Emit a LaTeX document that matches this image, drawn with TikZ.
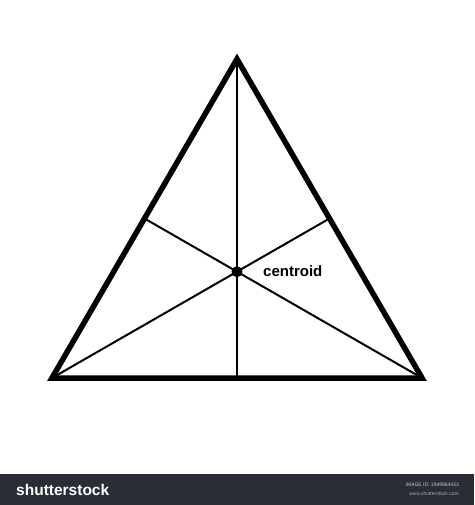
\documentclass[tikz,border=0pt]{standalone}
\usepackage{fontspec}
\setmainfont{Liberation Sans}
\usetikzlibrary{calc}
\begin{document}
\begin{tikzpicture}[x=1pt,y=-1pt,
  side/.style={line width=5.5pt,line join=miter},
  median/.style={line width=2pt},
  lbl/.style={font=\bfseries\fontsize{15}{15}\selectfont,inner sep=0pt}]
\useasboundingbox (0,0) rectangle (474,505);
\fill[white] (0,0) rectangle (474,505);
\coordinate (A) at (237,59);
\coordinate (B) at (52,378);
\coordinate (C) at (422,378);
\coordinate (MA) at ($(B)!0.5!(C)$);
\coordinate (MB) at ($(A)!0.5!(C)$);
\coordinate (MC) at ($(A)!0.5!(B)$);
\draw[median] (A) -- (MA);
\draw[median] (B) -- (MB);
\draw[median] (C) -- (MC);
\draw[side] (A) -- (B) -- (C) -- cycle;
\node[circle,fill=black,minimum size=11pt,inner sep=0pt] (G) at (237,271.7) {};
\node[lbl,anchor=west] (t) at (263,271) {centroid};
% banner
\fill[fill={rgb,255:red,42;green,45;blue,54}] (0,474) rectangle (474,505);
\node[font=\bfseries\fontsize{15.5}{15.5}\selectfont,text=white,anchor=west,inner sep=0pt] (logo) at (16,490) {shutterstock};
\node[font=\fontsize{5}{5}\selectfont,text={rgb,255:red,200;green,200;blue,205},anchor=east,inner sep=0pt] (id) at (459,485) {IMAGE ID: 1949964433};
\node[font=\fontsize{5}{5}\selectfont,text={rgb,255:red,170;green,170;blue,175},anchor=east,inner sep=0pt] (www) at (459,494) {www.shutterstock.com};
\end{tikzpicture}
\end{document}
